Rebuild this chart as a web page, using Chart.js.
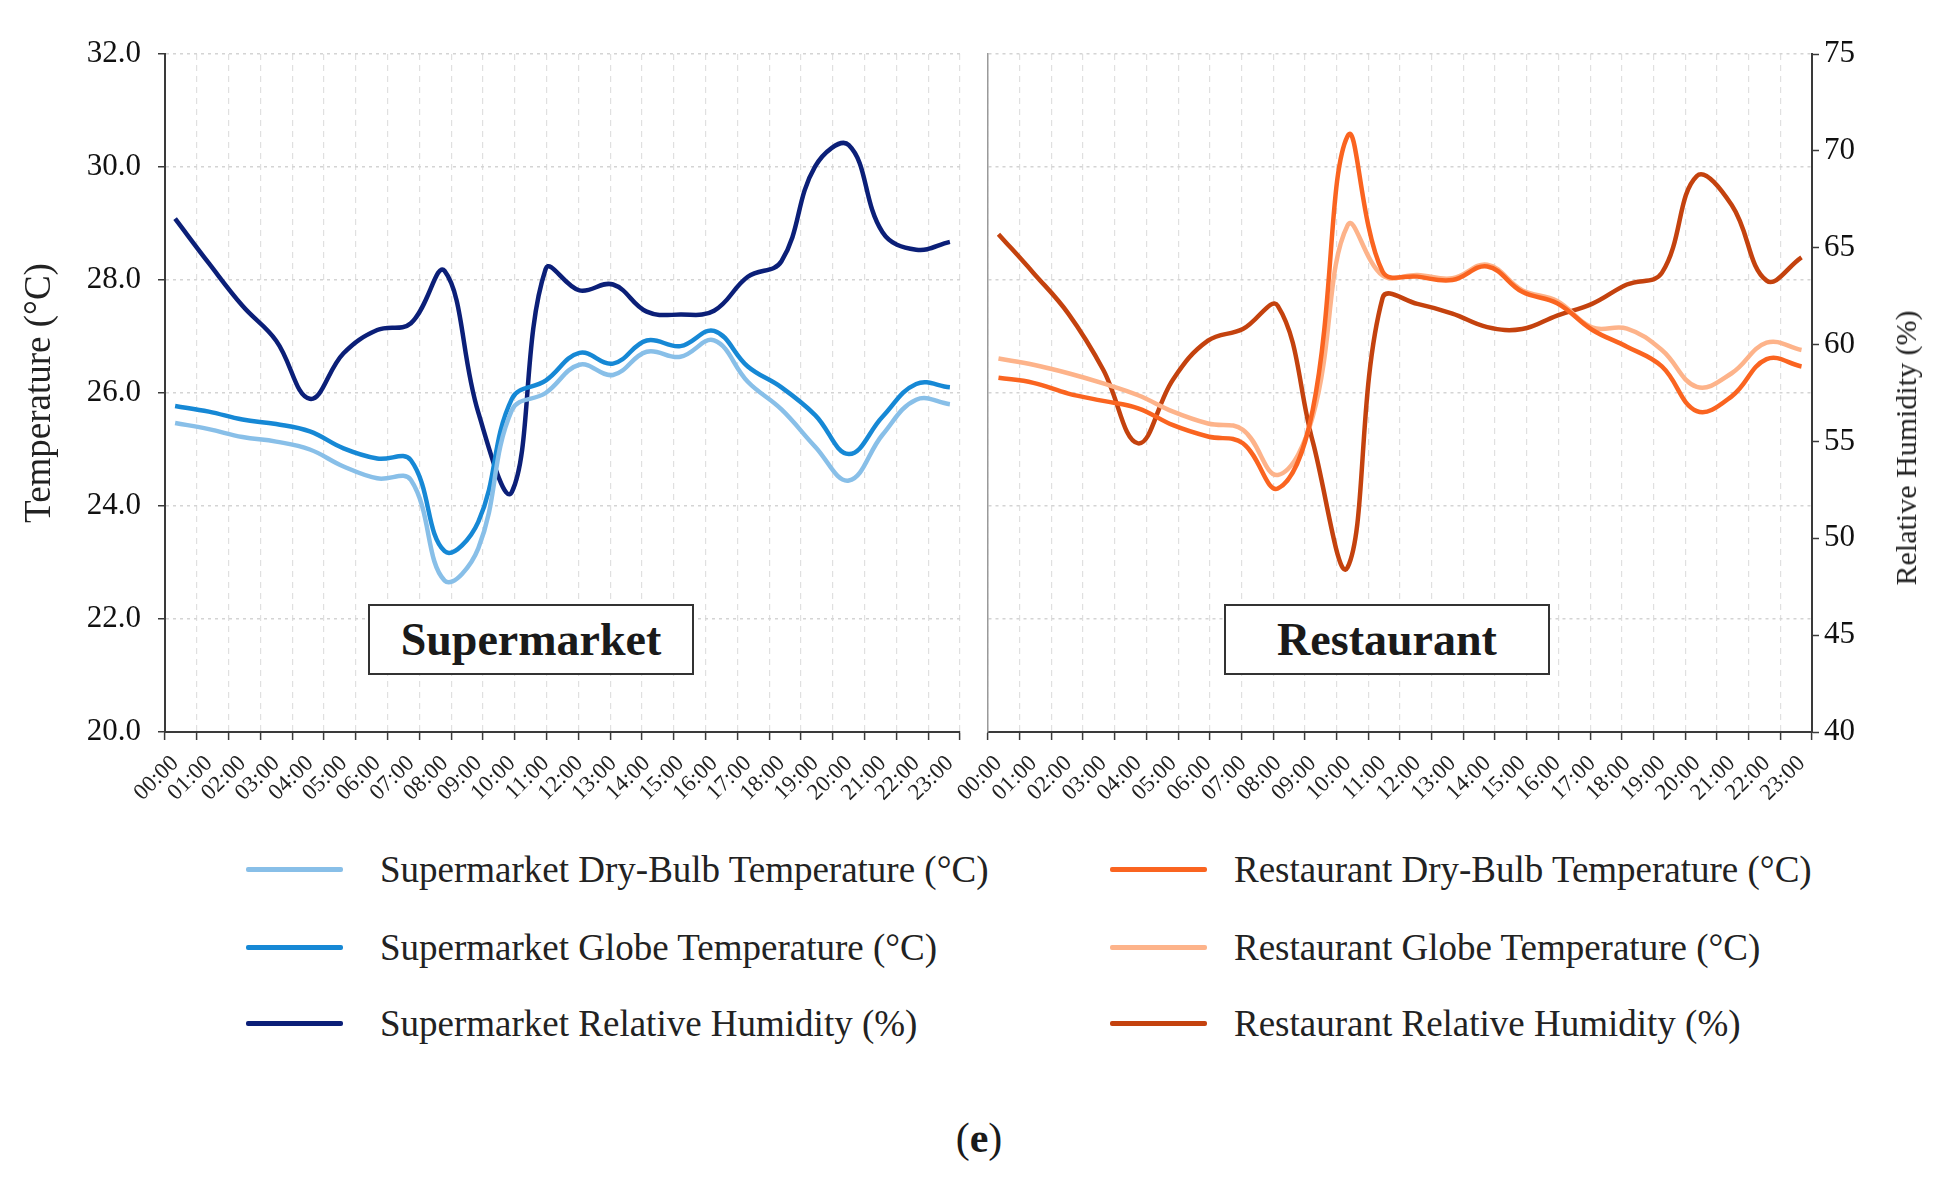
<!DOCTYPE html>
<html>
<head>
<meta charset="utf-8">
<script src="https://cdn.jsdelivr.net/npm/chart.js@4.4.1/dist/chart.umd.min.js"></script>
<style>
  body { margin: 0; background: #fff; width: 1956px; height: 1177px; position: relative; overflow: hidden;
         font-family: 'Liberation Serif', 'Times New Roman', serif; color: #1a1a1a; }
  canvas { position: absolute; top: 0; }
  #smChart { left: 0; }
  #rChart { left: 900px; }
  .tag { position: absolute; top: 604px; width: 326px; height: 71px; box-sizing: border-box; border: 2px solid #333;
         background: #fff; font-weight: bold; font-size: 46px; display: flex; align-items: center; justify-content: center; }
  #rhTitle { position: absolute; left: 1906px; top: 448px; transform: translate(-50%, -50%) rotate(-90deg);
             white-space: nowrap; font-size: 30px; color: #222; }
  .lg-line { position: absolute; width: 97px; height: 5px; border-radius: 2px; }
  .lg-text { position: absolute; font-size: 37px; white-space: nowrap; transform: translateY(-50%); color: #222; }
  #caption { position: absolute; left: 979px; top: 1138px; transform: translate(-50%, -50%); font-size: 42px; }
</style>
</head>
<body>
<canvas id="smChart" width="975" height="840"></canvas>
<canvas id="rChart" width="1056" height="840"></canvas>
<div class="tag" style="left:368px">Supermarket</div>
<div class="tag" style="left:1224px">Restaurant</div>
<div id="rhTitle">Relative Humidity (%)</div>
<div id="legend"></div>
<div id="caption">(<b>e</b>)</div>
<script>
const HOURS = ['00:00','01:00','02:00','03:00','04:00','05:00','06:00','07:00','08:00','09:00','10:00','11:00',
               '12:00','13:00','14:00','15:00','16:00','17:00','18:00','19:00','20:00','21:00','22:00','23:00']
const TEMP_TICKS = [20, 22, 24, 26, 28, 30, 32]
const RH_TICKS = [40, 45, 50, 55, 60, 65, 70, 75]
const SERIES_NAMES = ['Dry-Bulb Temperature (°C)', 'Globe Temperature (°C)', 'Relative Humidity (%)']

// supermarket
const SM_DRY   = [25.47, 25.36, 25.22, 25.14, 25.00, 24.70, 24.49, 24.46, 22.68, 23.25, 25.70, 26.00,
                  26.50, 26.32, 26.73, 26.64, 26.93, 26.20, 25.71, 25.05, 24.45, 25.26, 25.88, 25.80]
const SM_GLOBE = [25.77, 25.67, 25.53, 25.45, 25.32, 25.02, 24.84, 24.81, 23.20, 23.72, 25.90, 26.22,
                  26.71, 26.52, 26.93, 26.83, 27.10, 26.47, 26.10, 25.61, 24.92, 25.58, 26.16, 26.10]
const SM_RH    = [66.5, 64.2, 62.0, 60.2, 57.2, 59.55, 60.75, 61.1, 63.8, 56.5, 52.4, 63.9,
                  62.8, 63.1, 61.7, 61.55, 61.75, 63.5, 64.3, 69.2, 70.3, 65.8, 64.9, 65.3]
// restaurant
const R_DRY    = [26.27, 26.18, 25.99, 25.86, 25.73, 25.43, 25.23, 25.11, 24.31, 25.70, 30.55, 28.15,
                  28.06, 28.00, 28.24, 27.79, 27.59, 27.12, 26.82, 26.47, 25.68, 25.94, 26.60, 26.47]
const R_GLOBE  = [26.61, 26.50, 26.35, 26.17, 25.96, 25.67, 25.46, 25.35, 24.55, 25.58, 28.97, 28.08,
                  28.09, 28.03, 28.27, 27.82, 27.63, 27.16, 27.14, 26.76, 26.11, 26.35, 26.89, 26.76]
const R_RH     = [65.7, 63.7, 61.6, 58.7, 54.9, 58.2, 60.2, 60.8, 62.0, 55.0, 48.5, 62.4,
                  62.1, 61.6, 60.9, 60.8, 61.5, 62.1, 63.1, 63.7, 68.7, 67.2, 63.3, 64.5]

const SM_COLORS = ['#88bfe8', '#1688d5', '#0b1f78']
const R_COLORS  = ['#fa6420', '#fdb38a', '#c4420e']

const GRID_H = '#d4d4d4'
const GRID_V = '#e0e0e0'
const AXIS = '#3a3a3a'
const serif = (size, weight) => ({ family: "'Liberation Serif', 'Times New Roman', serif", size, weight })

const makeDatasets = (prefix, series, colors) => series.map((vals, k) => ({
  label: prefix + ' ' + SERIES_NAMES[k],
  data: vals.map((y, i) => ({ x: i, y })),
  borderColor: colors[k],
  backgroundColor: colors[k],
  borderWidth: 4.5,
  pointRadius: 0,
  tension: 0.4,
  xAxisID: 'x',
  yAxisID: k === 2 ? 'yH' : 'yT'
}))

const setW = w => s => { s.width = w }
const setH = h => s => { s.height = h; s.paddingLeft = 0; s.paddingRight = 0 }

const buildScales = (side) => {
  const isLeft = side === 'left'
  return {
    x: {
      type: 'linear', min: -0.3, max: 23.3, position: 'bottom', weight: 1,
      afterBuildTicks: s => { s.ticks = HOURS.map((h, i) => ({ value: i })) },
      afterFit: setH(100),
      grid: { display: false },
      border: { display: false },
      ticks: { autoSkip: false, minRotation: 45, maxRotation: 45, padding: 2,
               font: serif(23), color: '#222', callback: v => HOURS[v] }
    },
    xg: {
      type: 'linear', min: 0, max: isLeft ? 25 : 26, position: 'bottom', weight: 0,
      afterBuildTicks: s => {
        const n = isLeft ? 25 : 26
        s.ticks = Array.from({ length: n + 1 }, (_, i) => ({ value: i }))
      },
      afterFit: setH(8),
      ticks: { display: false },
      grid: { color: GRID_V, lineWidth: 1.2, tickLength: 8, tickColor: AXIS, tickWidth: 1.5, tickBorderDash: [] },
      border: { display: true, color: AXIS, width: 2, dash: [6, 5] }
    },
    yT: {
      type: 'linear', position: 'left', min: 20, max: 32,
      afterBuildTicks: s => { s.ticks = TEMP_TICKS.map(v => ({ value: v })) },
      afterFit: setW(isLeft ? 165 : 88),
      title: { display: isLeft, text: 'Temperature (°C)', font: serif(37), color: '#222', padding: { top: 18, bottom: 0 } },
      ticks: { display: isLeft, font: serif(31), color: '#111', padding: 17, callback: v => v.toFixed(1) },
      grid: { color: GRID_H, lineWidth: 1.5, drawTicks: isLeft, tickLength: 7, tickColor: AXIS, tickWidth: 1.5, tickBorderDash: [] },
      border: { display: true, color: isLeft ? AXIS : '#9a9a9a', width: isLeft ? 2 : 1.5, dash: [3, 4] }
    },
    yH: {
      type: 'linear', position: 'right', min: 40, max: 75, display: !isLeft,
      afterBuildTicks: s => { s.ticks = RH_TICKS.map(v => ({ value: v })) },
      afterFit: setW(isLeft ? 0 : 144),
      ticks: { font: serif(31), color: '#111', padding: 5 },
      grid: { drawOnChartArea: false, tickLength: 7, tickColor: AXIS, tickWidth: 1.5 },
      border: { display: true, color: AXIS, width: 2 }
    }
  }
}

const baseOptions = (side, padding) => ({
  responsive: false,
  animation: false,
  devicePixelRatio: 1,
  layout: { padding },
  plugins: { legend: { display: false }, tooltip: { enabled: false } },
  scales: buildScales(side)
})

const smChart = new Chart(document.getElementById('smChart'), {
  type: 'line',
  data: { datasets: makeDatasets('Supermarket', [SM_DRY, SM_GLOBE, SM_RH], SM_COLORS) },
  options: baseOptions('left', { top: 54, right: 15, bottom: 0, left: 0 })
})

const rChart = new Chart(document.getElementById('rChart'), {
  type: 'line',
  data: { datasets: makeDatasets('Restaurant', [R_DRY, R_GLOBE, R_RH], R_COLORS) },
  options: baseOptions('right', { top: 54, right: 0, bottom: 0, left: 0 })
})

// legend: one column per panel, one row per series
const LEGEND_COLS = [{ line: 246, text: 380 }, { line: 1110, text: 1234 }]
const LEGEND_ROWS = [869, 947, 1023]
const legend = document.getElementById('legend')
;[smChart, rChart].forEach((chart, c) => {
  chart.data.datasets.forEach((ds, r) => {
    const line = document.createElement('div')
    line.className = 'lg-line'
    line.style.left = LEGEND_COLS[c].line + 'px'
    line.style.top = (LEGEND_ROWS[r] - 2.5) + 'px'
    line.style.background = ds.borderColor
    const txt = document.createElement('div')
    txt.className = 'lg-text'
    txt.style.left = LEGEND_COLS[c].text + 'px'
    txt.style.top = LEGEND_ROWS[r] + 'px'
    txt.textContent = ds.label
    legend.append(line, txt)
  })
})
</script>
</body>
</html>
